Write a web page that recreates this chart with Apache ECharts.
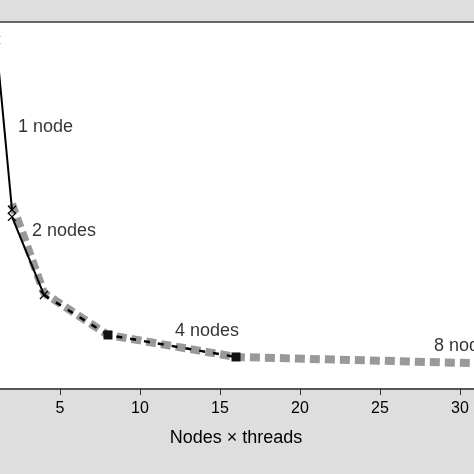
<!DOCTYPE html>
<html><head><meta charset="utf-8">
<script src="https://cdn.jsdelivr.net/npm/echarts@6/dist/echarts.min.js"></script>
<style>html,body{margin:0;padding:0;background:#dedede}#c{width:474px;height:474px}</style>
</head><body><div id="c"></div>
<script>
// Data (x = nodes x threads, y = run time, arbitrary units)
const oneNodeX = [1, 2];
const oneNodeY = [104.6, 53.7];
const twoNodesX = [2, 4];
const twoNodesY = [51.6, 28.2];
const grayX = [2, 4, 8, 16, 32];
const grayY = [55.5, 28.8, 16.2, 9.6, 7.6];
const dashedX = [4, 8, 16];
const dashedY = [28.2, 16.2, 9.6];
const labelTexts = ['1 node', '2 nodes', '4 nodes', '8 nodes'];
const labelX = [2.375, 3.25, 12.19, 28.375];
const labelY = [78.5, 47.4, 17.4, 12.9];
const xTicks = [5, 10, 15, 20, 25, 30];

const zip = (xs, ys) => xs.map((x, i) => [x, ys[i]]);
const cross = 'path://M0,1L1,0L5,4L9,0L10,1L6,5L10,9L9,10L5,6L1,10L0,9L4,5Z';
const FONT = '"Liberation Sans Narrow", "Liberation Sans", Arial, sans-serif';

const chart = echarts.init(document.getElementById('c'), null, {renderer: 'canvas'});
chart.setOption({
  backgroundColor: '#dedede',
  animation: false,
  grid: {left: -20, right: -18, top: 22, bottom: 85, show: true, backgroundColor: '#ffffff', borderWidth: 0,
    containLabel: false, outerBoundsMode: 'none'},
  xAxis: [{
    type: 'value', min: 0, max: 32, interval: 5,
    name: 'Nodes \u00d7 threads', nameLocation: 'middle', nameGap: 40,
    nameTextStyle: {fontFamily: FONT, fontSize: 18, color: '#000'},
    axisLine: {show: true, lineStyle: {color: '#555', width: 2}},
    axisTick: {show: true, inside: false, length: 6, lineStyle: {color: '#333', width: 1}},
    axisLabel: {fontFamily: FONT, fontSize: 16, color: '#000', margin: 12,
      formatter: v => xTicks.includes(v) ? String(v) : ''},
    splitLine: {show: false}
  }, {
    type: 'value', position: 'top', min: 0, max: 32,
    axisLine: {show: true, lineStyle: {color: '#666', width: 2}},
    axisTick: {show: false}, axisLabel: {show: false}, splitLine: {show: false}
  }],
  yAxis: {type: 'value', min: 0, max: 110, show: false, splitLine: {show: false}},
  series: [
    {type: 'line', data: zip(grayX, grayY), symbol: 'none', z: 2,
      lineStyle: {color: '#999', width: 8, type: [10, 5], cap: 'butt'}},
    {type: 'line', data: zip(oneNodeX, oneNodeY), symbol: cross, symbolSize: 9, z: 3,
      itemStyle: {color: '#000'},
      lineStyle: {color: '#000', width: 2, type: 'solid'}},
    {type: 'line', data: zip(twoNodesX, twoNodesY), symbol: cross, symbolSize: 9, z: 3,
      itemStyle: {color: '#000'},
      lineStyle: {color: '#000', width: 2, type: 'solid'}},
    {type: 'line', z: 4, symbolSize: 9, itemStyle: {color: '#111'},
      data: zip(dashedX, dashedY).map((p, i) => ({value: p, symbol: i === 0 ? 'none' : 'rect'})),
      lineStyle: {color: '#000', width: 2.5, type: [6, 8]}},
    {type: 'scatter', symbolSize: 0, z: 5, silent: true,
      data: labelTexts.map((t, i) => ({name: t, value: [labelX[i], labelY[i]]})),
      label: {show: true, position: 'inside', align: 'left', verticalAlign: 'middle',
        formatter: p => p.name, fontFamily: FONT, fontSize: 18, color: '#000'}}
  ]
});
</script></body></html>
